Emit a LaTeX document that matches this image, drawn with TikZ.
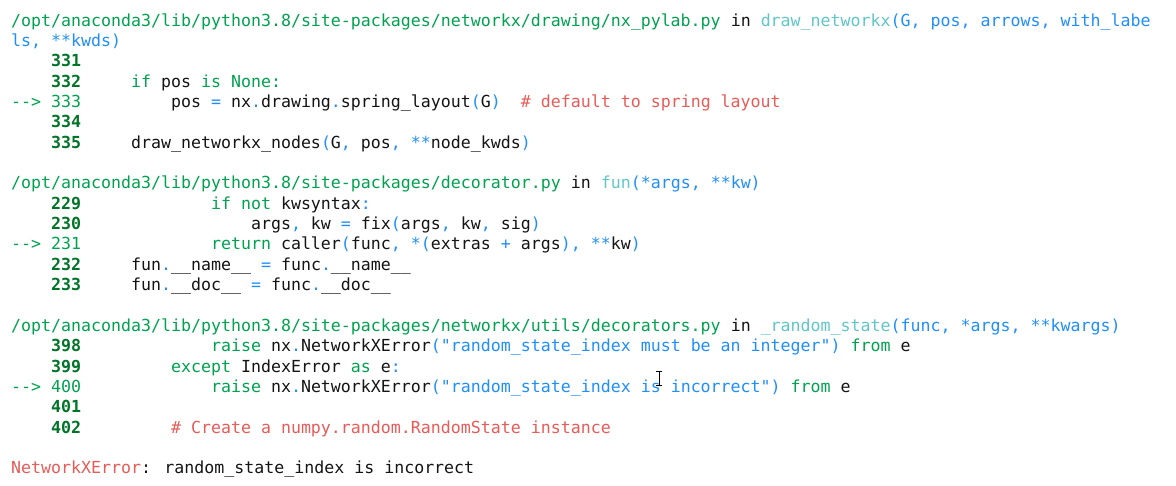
\documentclass[tikz,border=0pt]{standalone}
\usepackage{fontspec}
\newfontfamily\mono{DejaVu Sans Mono}
\definecolor{gr}{RGB}{0,162,80}
\definecolor{dg}{RGB}{0,116,39}
\definecolor{cy}{RGB}{96,198,200}
\definecolor{bl}{RGB}{32,143,251}
\definecolor{rd}{RGB}{231,92,88}
\definecolor{tx}{RGB}{20,20,20}
\newcommand\K[1]{\textcolor{gr}{#1}}
\newcommand\B[1]{\textcolor{bl}{#1}}
\newcommand\C[1]{\textcolor{cy}{#1}}
\newcommand\R[1]{\textcolor{rd}{#1}}
\newcommand\N[1]{\textcolor{dg}{\bfseries #1}}
\tikzset{ln/.style={anchor=base west,inner sep=0pt,font=\mono\fontsize{16.6}{20}\selectfont,text=tx}}
\newcommand\Ln[3]{\node[ln] (r#1c#2) at ({11+#2*9.993},{26+#1*20.36}) {#3};}
\begin{document}
\begin{tikzpicture}[x=1pt,y=-1pt]
\fill[white] (0,0) rectangle (1176,485);
\useasboundingbox (0,0) rectangle (1176,485);
\Ln{0}{0}{\K{/opt/anaconda3/lib/python3.8/site-packages/networkx/drawing/nx\_pylab.py} in \C{draw\_networkx}\B{(G, pos, arrows, with\_labe}}
\Ln{1}{0}{\B{ls, **kwds)}}
\Ln{2}{4}{\N{331}}
\Ln{3}{4}{\N{332}}
\Ln{3}{12}{\K{if} pos \K{is} \K{None}\K{:}}
\Ln{4}{0}{\K{-->} \K{333}}
\Ln{4}{16}{pos \B{=} nx\B{.}drawing\B{.}spring\_layout\B{(}G\B{)}~~\R{\# default to spring layout}}
\Ln{5}{4}{\N{334}}
\Ln{6}{4}{\N{335}}
\Ln{6}{12}{draw\_networkx\_nodes\B{(}G\B{,} pos\B{,} \B{**}node\_kwds\B{)}}
\Ln{8}{0}{\K{/opt/anaconda3/lib/python3.8/site-packages/decorator.py} in \C{fun}\B{(*args, **kw)}}
\Ln{9}{4}{\N{229}}
\Ln{9}{20}{\K{if} \K{not} kwsyntax\B{:}}
\Ln{10}{4}{\N{230}}
\Ln{10}{24}{args\B{,} kw \B{=} fix\B{(}args\B{,} kw\B{,} sig\B{)}}
\Ln{11}{0}{\K{-->} \K{231}}
\Ln{11}{20}{\K{return} caller\B{(}func\B{,} \B{*(}extras \B{+} args\B{),} \B{**}kw\B{)}}
\Ln{12}{4}{\N{232}}
\Ln{12}{12}{fun\B{.}\_\_name\_\_ \B{=} func\B{.}\_\_name\_\_}
\Ln{13}{4}{\N{233}}
\Ln{13}{12}{fun\B{.}\_\_doc\_\_ \B{=} func\B{.}\_\_doc\_\_}
\Ln{15}{0}{\K{/opt/anaconda3/lib/python3.8/site-packages/networkx/utils/decorators.py} in \C{\_random\_state}\B{(func, *args, **kwargs)}}
\Ln{16}{4}{\N{398}}
\Ln{16}{20}{\K{raise} nx\B{.}NetworkXError\B{("random\_state\_index must be an integer")} \K{from} e}
\Ln{17}{4}{\N{399}}
\Ln{17}{16}{\K{except} IndexError \K{as} e\B{:}}
\Ln{18}{0}{\K{-->} \K{400}}
\Ln{18}{20}{\K{raise} nx\B{.}NetworkXError\B{("random\_state\_index is incorrect")} \K{from} e}
\Ln{19}{4}{\N{401}}
\Ln{20}{4}{\N{402}}
\Ln{20}{16}{\R{\# Create a numpy.random.RandomState instance}}
\Ln{22}{0}{\R{NetworkXError}: random\_state\_index is incorrect}
% text cursor
\draw[black,line width=0.8pt] (659,371) -- (659,385) (656,371) -- (662,371) (656,385) -- (662,385);
\end{tikzpicture}
\end{document}
